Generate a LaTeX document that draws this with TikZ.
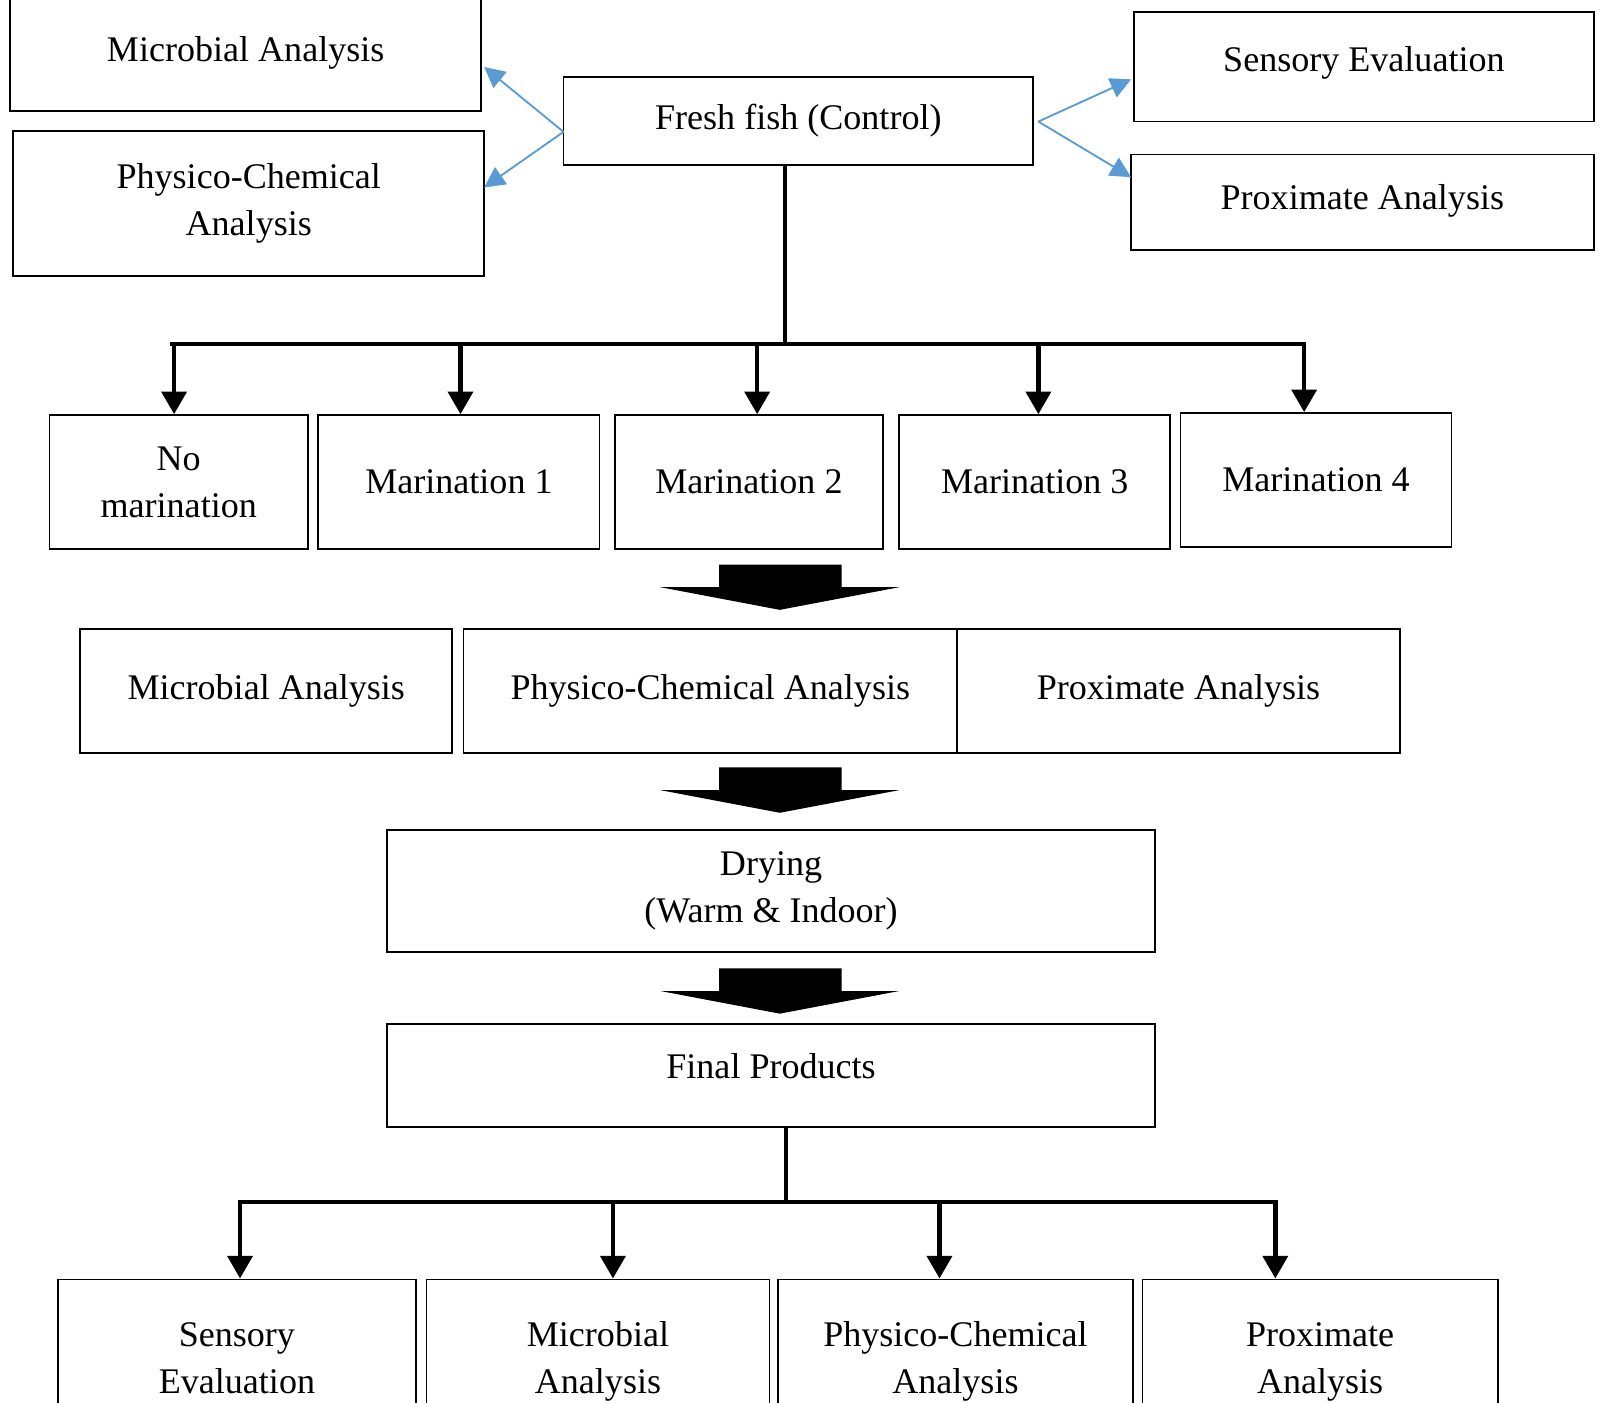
\documentclass[tikz,border=0pt]{standalone}
\usepackage{fontspec}
\setmainfont{Liberation Serif}
\usetikzlibrary{arrows.meta}
\begin{document}
\begin{tikzpicture}[x=1pt,y=-1pt,
  box/.style={draw,line width=1.8pt,rectangle,inner sep=0,align=center,font=\fontsize{35}{46}\selectfont},
  thick arr/.style={line width=4.5pt,-{Triangle[length=22pt,width=24pt]}},
  blue arr/.style={draw={rgb,255:red,91;green,155;blue,213},line width=1.8pt,-{Triangle[length=20pt,width=20pt]}}]
\useasboundingbox (0,0) rectangle (1560,1361);
\newcommand{\bx}[6]{\node[box,minimum width={#4-#2},minimum height={#5-#3}] (#1) at ({(#2+#4)/2},{(#3+#5)/2}) {#6};}
\newcommand{\tl}[3]{\raisebox{#1}{\begin{tabular}{@{}c@{}}#2\\#3\end{tabular}}}
\bx{mtop}{10}{-5}{467}{108}{\raisebox{-20pt}{Microbial Analysis}}
\bx{ptop}{13}{127}{470}{268}{Physico-Chemical\\Analysis}
\bx{fish}{547}{75}{1003}{160}{Fresh fish (Control)}
\bx{stop}{1101}{12}{1547}{118}{\raisebox{16pt}{Sensory Evaluation}}
\bx{xtop}{1098}{150}{1547}{243}{\raisebox{10pt}{Proximate Analysis}}
\bx{m0}{48}{403}{299}{533}{No\\marination}
\bx{m1}{309}{403}{582}{533}{Marination 1}
\bx{m2}{597}{403}{857}{533}{Marination 2}
\bx{m3}{873}{403}{1136}{533}{Marination 3}
\bx{m4}{1146}{401}{1409}{531}{Marination 4}
\bx{a1}{78}{611}{439}{731}{Microbial Analysis}
\bx{a2}{450}{611}{929}{731}{Physico-Chemical Analysis}
\bx{a3}{929}{611}{1359}{731}{Proximate Analysis}
\bx{dry}{376}{806}{1121}{924}{Drying\\(Warm \& Indoor)}
\bx{fin}{376}{994}{1121}{1094}{\raisebox{18pt}{Final Products}}
\bx{b1}{56}{1242}{404}{1400}{\tl{27pt}{Sensory}{Evaluation}}
\bx{b2}{414}{1242}{747}{1400}{\tl{31pt}{Microbial}{Analysis}}
\bx{b3}{755}{1242}{1100}{1400}{\tl{31pt}{Physico-Chemical}{Analysis}}
\bx{b4}{1109}{1242}{1454}{1400}{\tl{31pt}{Proximate}{Analysis}}
% blue arrows
\coordinate (fl) at (547,128);
\coordinate (fr) at (1008,118);
\draw[blue arr] (fl) -- (470,65);
\draw[blue arr] (fl) -- (470,182);
\draw[blue arr] (fr) -- (1098,77);
\draw[blue arr] (fr) -- (1098,172);
% top tree
\coordinate (j1) at (762,334);
\draw[line width=4.5pt] (fish.south -| j1) -- (j1);
\draw[line width=4.5pt] (165,334) -- (1268,334);
\foreach \n/\x in {m0/169,m1/447,m2/735,m3/1008,m4/1266}
  \draw[thick arr] (\x,332) -- (\x,\x |- \n.north);
% block arrows
\foreach \y in {548,745,940}
  \fill (698,\y) -- (817,\y) -- (817,\y+22) -- (873,\y+22) -- (757,\y+44) -- (641,\y+22) -- (698,\y+22) -- cycle;
% bottom tree
\coordinate (j2) at (763,1167);
\draw[line width=4.5pt] (fin.south -| j2) -- (j2);
\draw[line width=4.5pt] (231,1167) -- (1240,1167);
\foreach \n/\x in {b1/233,b2/595,b3/912,b4/1238}
  \draw[thick arr] (\x,1165) -- (\x,\x |- \n.north);
\end{tikzpicture}
\end{document}
